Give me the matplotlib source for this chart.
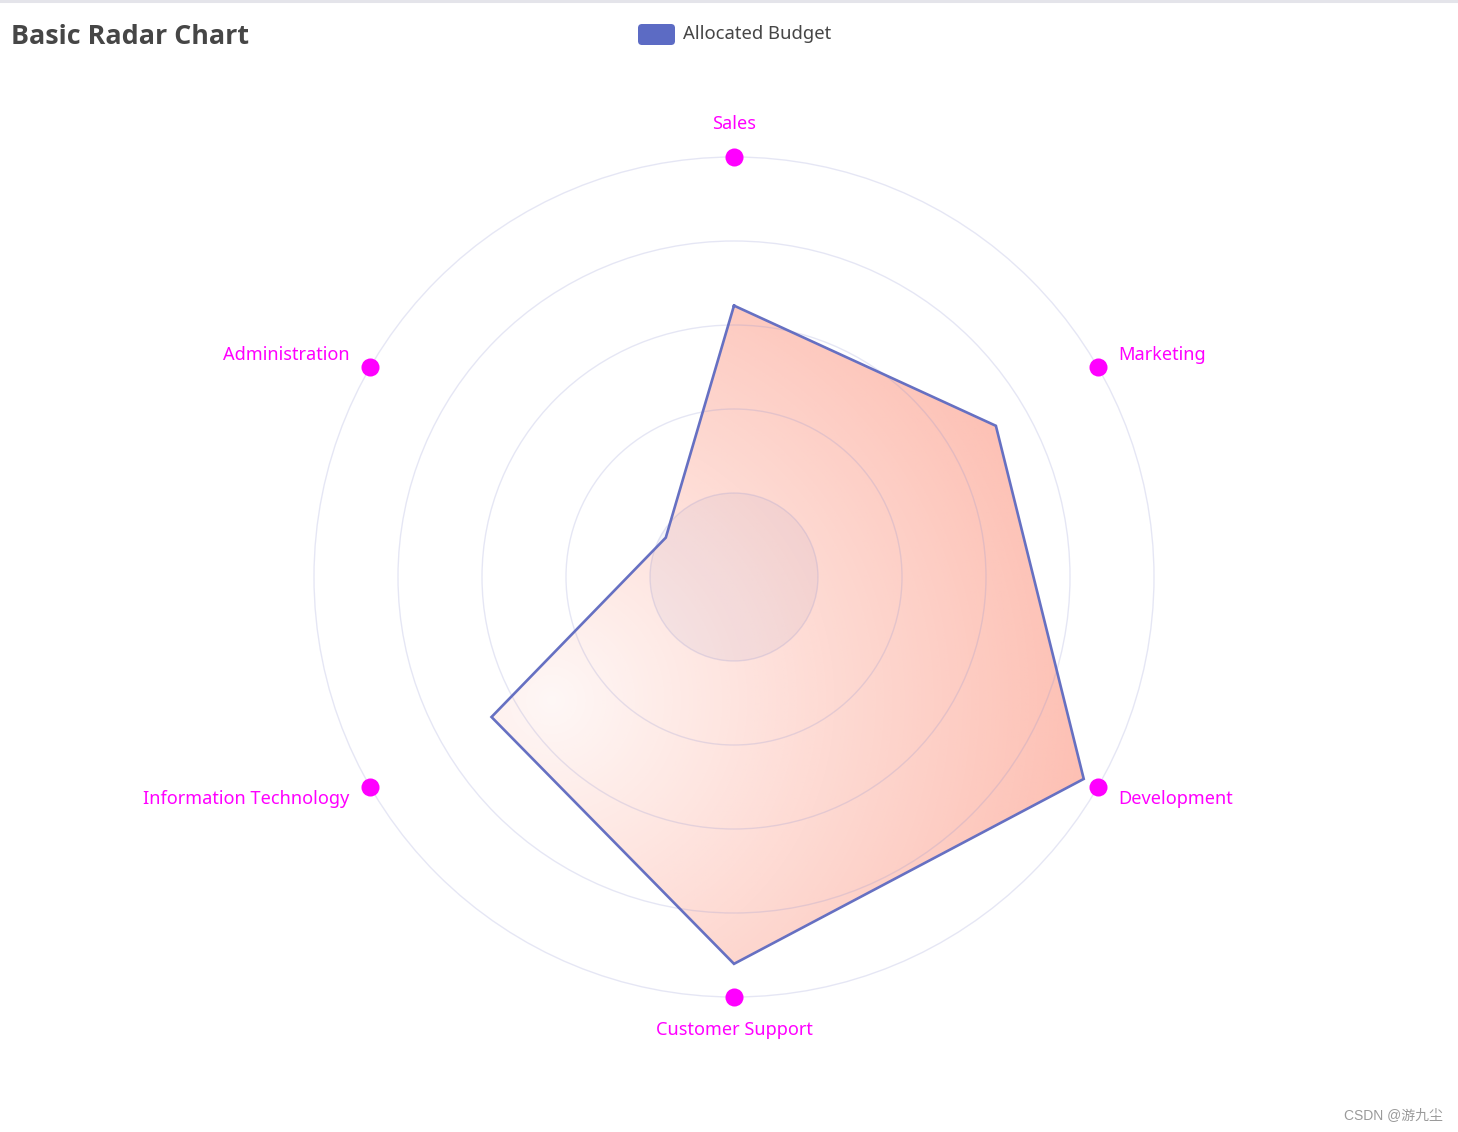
import numpy as np
import matplotlib.pyplot as plt
from matplotlib.patches import Polygon, Circle, FancyBboxPatch

# radar indicators (counter-clockwise from the top) and their maxima
indicators = ["Sales", "Administration", "Information Technology",
              "Customer Support", "Development", "Marketing"]
max_values = [6500, 16000, 30000, 38000, 52000, 25000]
budget = [4200, 3000, 20000, 35000, 50000, 18000]
series_name = "Allocated Budget"
title = "Basic Radar Chart"
watermark = "CSDN @游九尘"

W, H, DPI = 1458, 1132, 100
CX, CY, R = 734, 577, 420      # radar centre / radius in pixels
HALF = 520
LABEL_COLOR = "#ff00ff"
LINE_COLOR = "#6670c2"
FONT = ["Noto Sans", "DejaVu Sans"]


def main() -> None:
    fig = plt.figure(figsize=(W / DPI, H / DPI), dpi=DPI, facecolor="white")

    # overlay axes in pixel coordinates for title / legend / watermark
    top = fig.add_axes([0, 0, 1, 1])
    top.set_xlim(0, W); top.set_ylim(H, 0); top.axis("off")
    top.axhline(1, color="#e4e4ea", lw=2.2)
    top.text(11, 37, title, fontsize=19.4, fontweight="bold", color="#464646",
             va="center", ha="left", family=["Open Sans", "DejaVu Sans"])
    top.add_patch(FancyBboxPatch((638, 24), 37, 21,
                                 boxstyle="round,pad=0,rounding_size=4",
                                 fc="#5c6bc4", ec="none"))
    top.text(683, 34, series_name, fontsize=13.3, color="#464646",
             va="center", ha="left", family=FONT)
    top.text(1443, 1115, watermark, fontsize=10, color="#9a9a9a", va="center",
             ha="right", family=["Liberation Sans", "Noto Sans CJK SC"])

    ax = fig.add_axes([(CX - HALF) / W, (H - CY - HALF) / H, 2 * HALF / W, 2 * HALF / H])
    lim = HALF / R
    ax.axis("off")

    n = len(indicators)
    theta = np.deg2rad(90 + 360 / n * np.arange(n))
    frac = np.array(budget) / np.array(max_values)
    xs, ys = frac * np.cos(theta), frac * np.sin(theta)

    # radial gradient fill clipped to the series polygon
    poly = Polygon(np.column_stack([xs, ys]), closed=True, fc="none", ec="none")
    ax.add_patch(poly)
    x0, x1, y0, y1 = xs.min(), xs.max(), ys.min(), ys.max()
    gcx = x0 + 0.1 * (x1 - x0)
    gcy = y1 - 0.6 * (y1 - y0)
    gr = min(x1 - x0, y1 - y0)
    gx, gy = np.meshgrid(np.linspace(x0, x1, 500), np.linspace(y0, y1, 500))
    t = np.clip(np.hypot(gx - gcx, gy - gcy) / gr, 0, 1)
    img = np.zeros(gx.shape + (4,))
    img[..., 0] = 252 / 255
    img[..., 1] = 145 / 255
    img[..., 2] = 124 / 255
    img[..., 3] = 0.07 + 0.56 * t
    im = ax.imshow(img, extent=(x0, x1, y0, y1), origin="lower", zorder=1,
                   interpolation="bilinear")
    im.set_clip_path(poly)

    # split area (innermost ring) and split lines
    ax.add_patch(Circle((0, 0), 0.2, fc=(0.6, 0.58, 0.78, 0.09), ec="none", zorder=2))
    for k in range(1, 6):
        ax.add_patch(Circle((0, 0), k / 5, fill=False, ec=(0.55, 0.57, 0.82, 0.22),
                            lw=1.0, zorder=3))

    ax.plot(np.append(xs, xs[0]), np.append(ys, ys[0]), color=LINE_COLOR, lw=1.9,
            zorder=4, solid_joinstyle="miter")

    ax.scatter(np.cos(theta), np.sin(theta), s=13 ** 2, color=LABEL_COLOR,
               zorder=5, clip_on=False, linewidths=0)
    rl = 444 / R
    for name, th in zip(indicators, theta):
        c, s = np.cos(th), np.sin(th)
        ha = "left" if c > 0.01 else ("right" if c < -0.01 else "center")
        va = "bottom" if s > 0.99 else ("top" if s < -0.99 else "center")
        ax.text(rl * c, rl * s, name, color=LABEL_COLOR, fontsize=13.1,
                ha=ha, va=va, family=FONT)

    ax.set_xlim(-lim, lim)
    ax.set_ylim(-lim, lim)
    fig.savefig("out.png", dpi=DPI, facecolor="white")
    plt.close(fig)


if __name__ == "__main__":
    main()
